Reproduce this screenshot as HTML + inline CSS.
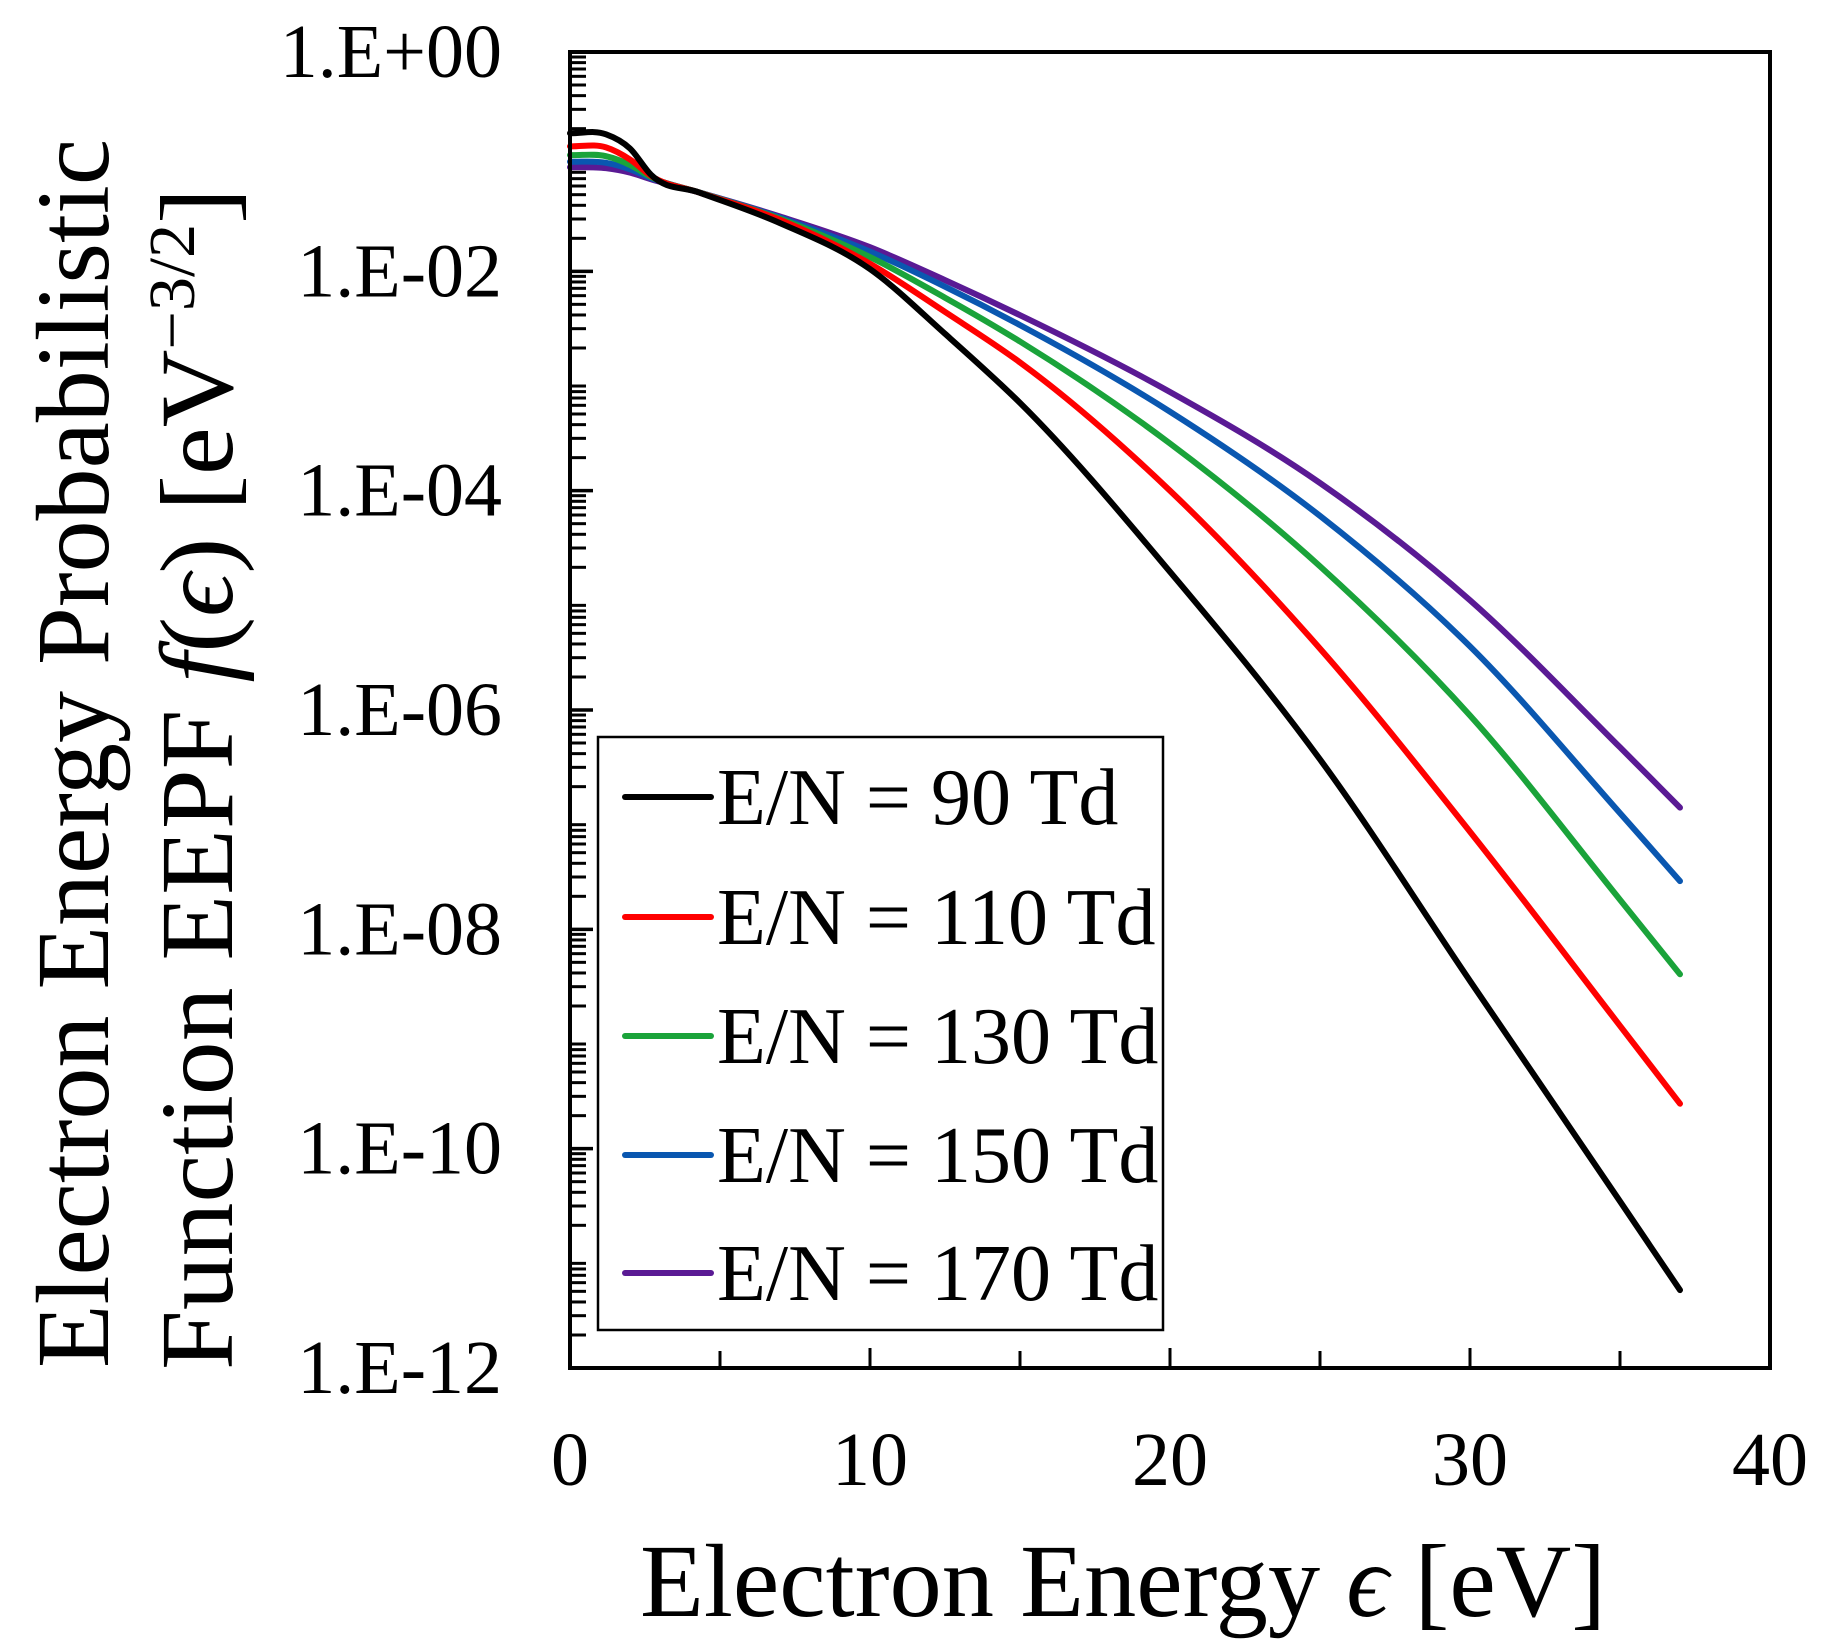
<!DOCTYPE html>
<html><head><meta charset="utf-8">
<style>
html,body{margin:0;padding:0;background:#fff;}
svg{display:block;font-family:"Liberation Serif",serif;}
</style></head>
<body>
<svg id="chart" width="1829" height="1651" viewBox="0 0 1829 1651" xmlns="http://www.w3.org/2000/svg">
<g id="grid"></g>
<g id="series"></g>
<rect x="570" y="52" width="1200" height="1316" fill="none" stroke="#000" stroke-width="4"/>
<g id="legend">
<rect x="598" y="737" width="565" height="593" fill="#fff" stroke="#000" stroke-width="2.5"/>
</g>
<text x="640" y="1616" font-size="104" textLength="966" lengthAdjust="spacingAndGlyphs">Electron Energy <tspan font-style="italic">ϵ</tspan> [eV]</text>
<text transform="translate(108,1368) rotate(-90)" font-size="104" textLength="1229" lengthAdjust="spacingAndGlyphs">Electron Energy Probabilistic</text>
<text transform="translate(232,1370) rotate(-90)" font-size="104" textLength="1182" lengthAdjust="spacingAndGlyphs">Function EEPF <tspan font-style="italic">f</tspan>(<tspan font-style="italic">ϵ</tspan>) [eV<tspan font-size="66" dy="-38">−3/2</tspan><tspan dy="38">]</tspan></text>
</svg>
<script>
const xTicks=[0,10,20,30,40];
const xMinorTicks=[5,15,25,35];
const yTickExps=[0,-2,-4,-6,-8,-10,-12];
const yTickLabels=["1.E+00","1.E-02","1.E-04","1.E-06","1.E-08","1.E-10","1.E-12"];
const seriesNames=["E/N = 90 Td","E/N = 110 Td","E/N = 130 Td","E/N = 150 Td","E/N = 170 Td"];
const seriesColors=["#000000","#ff0000","#1aa33a","#0a57b0","#5a1a94"];
const energies=[0,1.2,2,2.7,4.3,7,10,12.5,15,20,25,30,35,37];
const logEEPF90=[-0.74,-0.75,-0.88,-1.12,-1.28,-1.56,-1.98,-2.57,-3.20,-4.74,-6.45,-8.47,-10.48,-11.29];
const logEEPF110=[-0.86,-0.87,-0.98,-1.13,-1.28,-1.53,-1.93,-2.37,-2.83,-4.00,-5.44,-7.11,-8.88,-9.59];
const logEEPF130=[-0.94,-0.95,-1.03,-1.14,-1.28,-1.52,-1.87,-2.24,-2.64,-3.57,-4.69,-6.05,-7.73,-8.41];
const logEEPF150=[-1.00,-1.01,-1.07,-1.15,-1.28,-1.51,-1.82,-2.14,-2.49,-3.28,-4.23,-5.42,-6.94,-7.56];
const logEEPF170=[-1.05,-1.06,-1.10,-1.16,-1.28,-1.50,-1.78,-2.08,-2.40,-3.10,-3.93,-5.00,-6.34,-6.89];
const allSeries=[logEEPF90,logEEPF110,logEEPF130,logEEPF150,logEEPF170];

const NS="http://www.w3.org/2000/svg";
const X0=570,X1=1770,Y0=52,Y1=1368;
function xs(v){return X0+(v-0)/(40-0)*(X1-X0);}
function ys(e){return Y0+(0-e)/12*(Y1-Y0);}
function mk(tag,attrs,parent){const el=document.createElementNS(NS,tag);for(const k in attrs)el.setAttribute(k,attrs[k]);parent.appendChild(el);return el;}

const grid=document.getElementById('grid');
for(let d=0;d<12;d++){
  for(let m=2;m<=9;m++){
    const y=ys(-d-1+Math.log10(m));
    const t=mk('line',{x1:X0,x2:X0+16,y1:y,y2:y,stroke:'#000','stroke-width':3},grid);
    
    
  }
}
yTickExps.forEach((e,i)=>{
  const y=ys(e);
  const t=mk('line',{x1:X0,x2:X0+23,y1:y,y2:y,stroke:'#000','stroke-width':3.5},grid);
  
  
  const l=mk('text',{x:502,y:y+25,'font-size':76,'text-anchor':'end'},grid);
  l.textContent=yTickLabels[i];
  
  
});
xTicks.forEach(v=>{
  const x=xs(v);
  const t=mk('line',{x1:x,x2:x,y1:Y1,y2:Y1-20,stroke:'#000','stroke-width':3},grid);
  
  
  const l=mk('text',{x:x,y:1485,'font-size':76,'text-anchor':'middle'},grid);
  l.textContent=String(v);
  
  
});
xMinorTicks.forEach(v=>{
  const x=xs(v);
  const t=mk('line',{x1:x,x2:x,y1:Y1,y2:Y1-17,stroke:'#000','stroke-width':3},grid);
  
  
});

// non-uniform cubic Hermite spline in pixel space
function smoothPath(pts){
  const n=pts.length, m=[];
  for(let i=0;i<n;i++){
    if(i===0) m.push((pts[1][1]-pts[0][1])/(pts[1][0]-pts[0][0]));
    else if(i===n-1) m.push((pts[n-1][1]-pts[n-2][1])/(pts[n-1][0]-pts[n-2][0]));
    else {
      const s0=(pts[i][1]-pts[i-1][1])/(pts[i][0]-pts[i-1][0]);
      const s1=(pts[i+1][1]-pts[i][1])/(pts[i+1][0]-pts[i][0]);
      const h0=pts[i][0]-pts[i-1][0], h1=pts[i+1][0]-pts[i][0];
      m.push((s0*h1+s1*h0)/(h0+h1));
    }
  }
  let d='M'+pts[0][0].toFixed(1)+','+pts[0][1].toFixed(1);
  for(let i=0;i<n-1;i++){
    const h=pts[i+1][0]-pts[i][0];
    const c1=[pts[i][0]+h/3,pts[i][1]+m[i]*h/3];
    const c2=[pts[i+1][0]-h/3,pts[i+1][1]-m[i+1]*h/3];
    d+=' C'+c1[0].toFixed(1)+','+c1[1].toFixed(1)+' '+c2[0].toFixed(1)+','+c2[1].toFixed(1)+' '+pts[i+1][0].toFixed(1)+','+pts[i+1][1].toFixed(1);
  }
  return d;
}
const sg=document.getElementById('series');
for(let s=allSeries.length-1;s>=0;s--){
  const pts=energies.map((e,i)=>[xs(e),ys(allSeries[s][i])]);
  const p=mk('path',{d:smoothPath(pts),fill:'none',stroke:seriesColors[s],'stroke-width':6,'stroke-linecap':'round','stroke-linejoin':'round'},sg);
  
  
}
const lg=document.getElementById('legend');
const legendY=[797,917,1036,1155,1273];
seriesNames.forEach((n,i)=>{
  const ln=mk('line',{x1:625,x2:711,y1:legendY[i],y2:legendY[i],stroke:seriesColors[i],'stroke-width':6,'stroke-linecap':'round'},lg);
  
  
  const t=mk('text',{x:717,y:legendY[i]+27,'font-size':80},lg);
  t.textContent=n;
  
  
});
</script>
</body></html>
